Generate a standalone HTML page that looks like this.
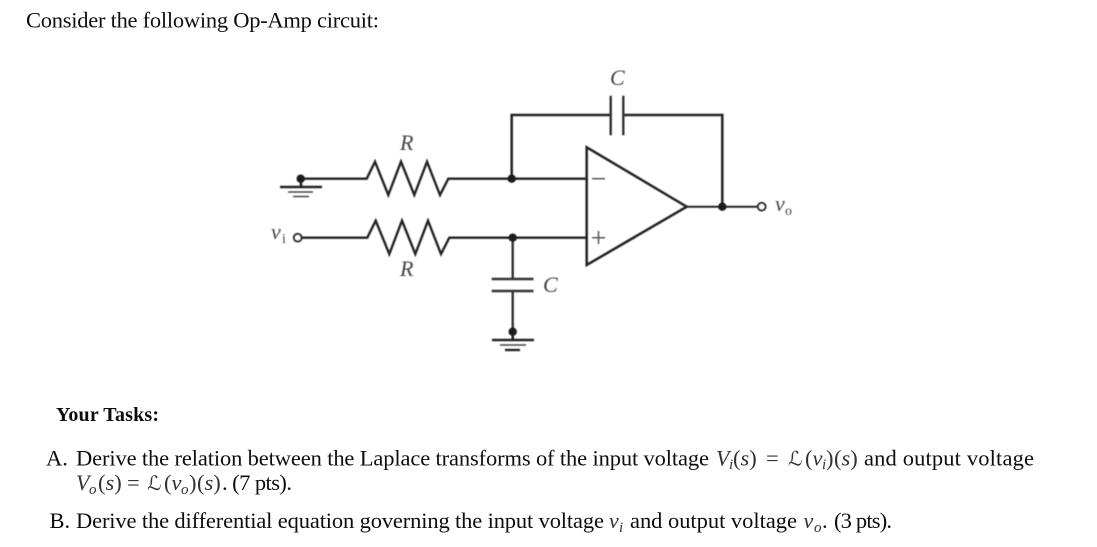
<!DOCTYPE html>
<html><head><meta charset="utf-8"><style>
html,body{margin:0;padding:0;background:#fff;width:1097px;height:547px;overflow:hidden}
svg{display:block}
text{font-family:"Liberation Serif","DejaVu Serif",serif;fill:#111}
.t{font-size:22.5px}
.m{font-size:22px;font-style:italic;fill:#333}
.s{font-size:15px;font-style:italic;fill:#333}
.c{font-size:22px;font-style:italic;fill:#444}
</style></head><body>
<svg width="1097" height="547" viewBox="0 0 1097 547" xmlns="http://www.w3.org/2000/svg">
<defs>
<filter id="b" x="-5%" y="-5%" width="110%" height="110%"><feGaussianBlur stdDeviation="0.45"/></filter>
<filter id="b2" x="-2%" y="-5%" width="104%" height="110%"><feGaussianBlur stdDeviation="0.25"/></filter>
</defs>
<g filter="url(#b2)">
<text class="t" x="26" y="27.5" textLength="353" lengthAdjust="spacing">Consider the following Op-Amp circuit:</text>
<text class="t" x="56" y="421" textLength="103" lengthAdjust="spacing" style="font-weight:bold;font-size:20px">Your Tasks:</text>

<text class="t" x="46" y="465.500">A.</text>
<text class="t" x="76" y="465.500" textLength="633" lengthAdjust="spacing">Derive the relation between the Laplace transforms of the input voltage</text>
<text class="m" x="716" y="465.500">V</text><text class="s" x="729" y="469">i</text>
<text class="t" x="733" y="465.500" style="fill:#333">(<tspan font-style="italic">s</tspan>)</text>
<text class="t" x="766" y="465.500" style="fill:#333">=</text>
<text x="788" y="465.500" style="font-family:'DejaVu Sans',sans-serif;font-size:20px;fill:#333">ℒ</text>
<text class="t" x="805" y="465.500" style="fill:#333">(<tspan font-style="italic">v</tspan></text><text class="s" x="822" y="469">i</text><text class="t" x="826" y="465.500" style="fill:#333">)</text>
<text class="t" x="834" y="465.500" style="fill:#333">(<tspan font-style="italic">s</tspan>)</text>
<text class="t" x="864" y="465.500" textLength="170" lengthAdjust="spacing">and output voltage</text>

<text class="m" x="76" y="490">V</text><text class="s" x="89" y="494">o</text>
<text class="t" x="98" y="490" style="fill:#333">(<tspan font-style="italic">s</tspan>)</text>
<text class="t" x="127" y="490" style="fill:#333">=</text>
<text x="147" y="490" style="font-family:'DejaVu Sans',sans-serif;font-size:20px;fill:#333">ℒ</text>
<text class="t" x="164" y="490" style="fill:#333">(<tspan font-style="italic">v</tspan></text><text class="s" x="181" y="494">o</text><text class="t" x="189" y="490" style="fill:#333">)</text>
<text class="t" x="197" y="490" style="fill:#333">(<tspan font-style="italic">s</tspan>)</text>
<text class="t" x="222" y="490" textLength="70" lengthAdjust="spacing">. (7 pts).</text>

<text class="t" x="49.500" y="528">B.</text>
<text class="t" x="76" y="528" textLength="528" lengthAdjust="spacing">Derive the differential equation governing the input voltage</text>
<text class="m" x="609" y="528">v</text><text class="s" x="619" y="532">i</text>
<text class="t" x="630" y="528" textLength="167" lengthAdjust="spacing">and output voltage</text>
<text class="m" x="803.500" y="528">v</text><text class="s" x="814" y="532">o</text>
<text class="t" x="822" y="528">.</text>
<text class="t" x="834" y="528" textLength="58" lengthAdjust="spacing">(3 pts).</text>
</g>

<g filter="url(#b)">
<g fill="none" stroke="#222" stroke-width="2.4" stroke-linejoin="miter">
<path d="M301 178.7H366.7L375 161.7L388.3 195L401 161.7L414.3 195L427 161.7L440 195L448.3 178.7H586.7"/>
<path d="M302 237.7H367.3L375.7 220.7L389.3 254L402 220.7L415.3 254L428 220.7L441 254L449.3 237.7H586.7"/>
<path d="M511.7 178.7V115H610.7M623.3 115H722.3V206.7" stroke-width="2.5"/>
<path d="M610.7 95.7V135.3M623.3 95.7V135.3" stroke="#333"/>
<path d="M586.7 147.3L686.7 206.7L586.7 265Z" stroke-width="2.5"/>
<path d="M686.7 206.7H757.5" stroke-width="2"/>
<path d="M512.7 237.7V279M491.7 279H533.5M491.7 291H533.5M512.7 291V332" stroke="#333"/>
<path d="M301 178.7V187M280 187H322" stroke-width="2.6"/>
<path d="M288 192H313M293 196.5H309" stroke-width="1.6" stroke="#444"/>
<path d="M512.7 332V340M492 340H534" stroke-width="2.6"/>
<path d="M500 345H526" stroke-width="1.6" stroke="#444"/>
<path d="M505 350H520" stroke-width="2.4"/>
<path d="M592 178.7H605" stroke="#555" stroke-width="1.5"/>
<path d="M592 237.7H605M598.5 231V244" stroke="#555" stroke-width="1.5"/>
<circle cx="297.7" cy="237.7" r="3.8" fill="#fff" stroke-width="2"/>
<circle cx="761.7" cy="206.7" r="3.8" fill="#fff" stroke-width="2"/>
</g>
<g fill="#1a1a1a">
<circle cx="300.7" cy="178.7" r="4.2"/>
<circle cx="511.7" cy="178.7" r="4.2"/>
<circle cx="512.7" cy="237.7" r="4.2"/>
<circle cx="512.7" cy="331.7" r="4.2"/>
<circle cx="722.3" cy="206.7" r="4.2"/>
</g>
<text class="c" x="400" y="150">R</text>
<text class="c" x="400" y="276">R</text>
<text class="c" x="610" y="85">C</text>
<text class="c" x="543" y="292">C</text>
<text class="c" x="271" y="239">v</text>
<text x="282" y="243" style="font-size:14px;fill:#444">i</text>
<text class="c" x="775" y="211">v</text>
<text x="785" y="215" style="font-size:14px;fill:#444">o</text>
</g>
</svg>
</body></html>
